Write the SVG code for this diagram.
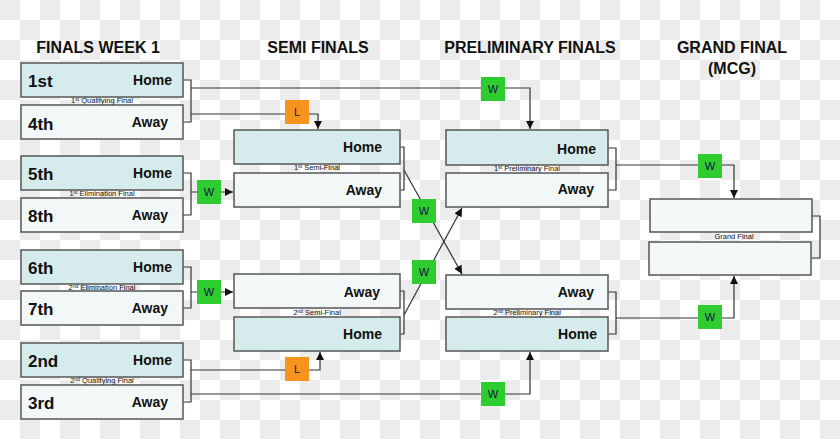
<svg xmlns="http://www.w3.org/2000/svg" width="840" height="439" viewBox="0 0 840 439">
<defs>
<pattern id="chk" width="40" height="40" patternUnits="userSpaceOnUse"><rect width="40" height="40" fill="#fff"/><rect width="20" height="20" fill="#ececec"/><rect x="20" y="20" width="20" height="20" fill="#ececec"/></pattern>
<marker id="ar" viewBox="0 0 10 10" refX="10" refY="5" markerWidth="7" markerHeight="7" orient="auto-start-reverse"><path d="M0,0L10,5L0,10z" fill="#111"/></marker>
<style>
.h{fill:#d6ecec;stroke:#555;stroke-width:1.5}
.a{fill:#f2f7f8;stroke:#555;stroke-width:1.5}
.t{font-family:"Liberation Sans",Arial,sans-serif;font-weight:bold;fill:#111}
.big{font-size:17px}
.mid{font-size:14px}
.sm{font-family:"Liberation Sans",Arial,sans-serif;font-size:7.5px;fill:#111;text-anchor:middle}
.sup{font-size:5px}
.hd{font-family:"Liberation Sans",Arial,sans-serif;font-weight:bold;font-size:16px;fill:#111;text-anchor:middle}
.c{fill:none;stroke:#333;stroke-width:1.2}
.w{fill:#2ecc2e}
.l{fill:#f7941d}
.bt{font-family:"Liberation Sans",Arial,sans-serif;font-size:11px;fill:#114;text-anchor:middle}
</style>
</defs>
<rect width="840" height="439" fill="url(#chk)"/>
<g id="headers">
<text class="hd" x="98" y="53">FINALS WEEK 1</text>
<text class="hd" x="318" y="53">SEMI FINALS</text>
<text class="hd" x="530" y="53">PRELIMINARY FINALS</text>
<text class="hd" x="732" y="53">GRAND FINAL</text>
<text class="hd" x="732" y="74">(MCG)</text>
</g>
<g id="connectors">
<path class="c" d="M183,80H191V122H183"/>
<path class="c" d="M183,173H191V215H183"/>
<path class="c" d="M183,267H191V308H183"/>
<path class="c" d="M183,360H191V402H183"/>
<path class="c" d="M400,147H404V190H400"/>
<path class="c" d="M400,291H404V334H400"/>
<path class="c" d="M608,148H616V190H608"/>
<path class="c" d="M608,292H616V334H608"/>
<path class="c" d="M812,216H820V258H812"/>
<path class="c" d="M191,88H530V129" marker-end="url(#ar)"/>
<path class="c" d="M191,114H318V129" marker-end="url(#ar)"/>
<path class="c" d="M191,192H233" marker-end="url(#ar)"/>
<path class="c" d="M191,292H233" marker-end="url(#ar)"/>
<path class="c" d="M191,370H320V352" marker-end="url(#ar)"/>
<path class="c" d="M191,394H530V352" marker-end="url(#ar)"/>
<path class="c" d="M404,170L462,274" marker-end="url(#ar)"/>
<path class="c" d="M404,315L462,208" marker-end="url(#ar)"/>
<path class="c" d="M616,165H734V198" marker-end="url(#ar)"/>
<path class="c" d="M616,318H734V276" marker-end="url(#ar)"/>
</g>
<g id="badges">
<rect class="w" x="481" y="77" width="24" height="24"/><text class="bt" x="493" y="93">W</text>
<rect class="l" x="285" y="100" width="24" height="24"/><text class="bt" x="297" y="116">L</text>
<rect class="w" x="197" y="180" width="24" height="24"/><text class="bt" x="209" y="196">W</text>
<rect class="w" x="197" y="280" width="24" height="24"/><text class="bt" x="209" y="296">W</text>
<rect class="l" x="285" y="357" width="24" height="24"/><text class="bt" x="297" y="373">L</text>
<rect class="w" x="481" y="382" width="24" height="24"/><text class="bt" x="493" y="398">W</text>
<rect class="w" x="412" y="199" width="24" height="24"/><text class="bt" x="424" y="215">W</text>
<rect class="w" x="412" y="260" width="24" height="24"/><text class="bt" x="424" y="276">W</text>
<rect class="w" x="698" y="154" width="24" height="24"/><text class="bt" x="710" y="170">W</text>
<rect class="w" x="698" y="305" width="24" height="24"/><text class="bt" x="710" y="321">W</text>
</g>
<g id="qf1">
<rect class="h" x="21" y="63" width="162" height="34"/><text class="t big" x="28" y="87">1st</text><text class="t mid" x="172" y="85" text-anchor="end">Home</text>
<text class="sm" x="102" y="103">1<tspan class="sup" dy="-2">st</tspan><tspan dy="2"> Qualifying Final</tspan></text>
<rect class="a" x="21" y="105" width="162" height="34"/><text class="t big" x="28" y="130">4th</text><text class="t mid" x="168" y="127" text-anchor="end">Away</text>
</g>
<g id="ef1">
<rect class="h" x="21" y="156" width="162" height="34"/><text class="t big" x="28" y="180">5th</text><text class="t mid" x="172" y="178" text-anchor="end">Home</text>
<text class="sm" x="102" y="196">1<tspan class="sup" dy="-2">st</tspan><tspan dy="2"> Elimination Final</tspan></text>
<rect class="a" x="21" y="198" width="162" height="34"/><text class="t big" x="28" y="222">8th</text><text class="t mid" x="168" y="220" text-anchor="end">Away</text>
</g>
<g id="ef2">
<rect class="h" x="21" y="250" width="162" height="34"/><text class="t big" x="28" y="274">6th</text><text class="t mid" x="172" y="272" text-anchor="end">Home</text>
<text class="sm" x="102" y="290">2<tspan class="sup" dy="-2">nd</tspan><tspan dy="2"> Elimination Final</tspan></text>
<rect class="a" x="21" y="291" width="162" height="34"/><text class="t big" x="28" y="315">7th</text><text class="t mid" x="168" y="313" text-anchor="end">Away</text>
</g>
<g id="qf2">
<rect class="h" x="21" y="343" width="162" height="34"/><text class="t big" x="28" y="367">2nd</text><text class="t mid" x="172" y="365" text-anchor="end">Home</text>
<text class="sm" x="102" y="383">2<tspan class="sup" dy="-2">nd</tspan><tspan dy="2"> Qualifying Final</tspan></text>
<rect class="a" x="21" y="385" width="162" height="34"/><text class="t big" x="28" y="409">3rd</text><text class="t mid" x="168" y="407" text-anchor="end">Away</text>
</g>
<g id="sf1">
<rect class="h" x="234" y="130" width="166" height="34"/><text class="t mid" x="382" y="152" text-anchor="end">Home</text>
<text class="sm" x="317" y="170">1<tspan class="sup" dy="-2">st</tspan><tspan dy="2"> Semi-Final</tspan></text>
<rect class="a" x="234" y="173" width="166" height="34"/><text class="t mid" x="382" y="195" text-anchor="end">Away</text>
</g>
<g id="sf2">
<rect class="a" x="234" y="274" width="166" height="34"/><text class="t mid" x="380" y="297" text-anchor="end">Away</text>
<text class="sm" x="317" y="315">2<tspan class="sup" dy="-2">nd</tspan><tspan dy="2"> Semi-Final</tspan></text>
<rect class="h" x="234" y="317" width="166" height="34"/><text class="t mid" x="382" y="339" text-anchor="end">Home</text>
</g>
<g id="pf1">
<rect class="h" x="446" y="130" width="162" height="35"/><text class="t mid" x="596" y="154" text-anchor="end">Home</text>
<text class="sm" x="527" y="171">1<tspan class="sup" dy="-2">st</tspan><tspan dy="2"> Preliminary Final</tspan></text>
<rect class="a" x="446" y="173" width="162" height="34"/><text class="t mid" x="594" y="194" text-anchor="end">Away</text>
</g>
<g id="pf2">
<rect class="a" x="446" y="275" width="162" height="34"/><text class="t mid" x="594" y="297" text-anchor="end">Away</text>
<text class="sm" x="527" y="315">2<tspan class="sup" dy="-2">nd</tspan><tspan dy="2"> Preliminary Final</tspan></text>
<rect class="h" x="446" y="317" width="162" height="34"/><text class="t mid" x="597" y="339" text-anchor="end">Home</text>
</g>
<g id="gf">
<rect class="a" x="650" y="199" width="162" height="33"/>
<text class="sm" x="734" y="239">Grand Final</text>
<rect class="a" x="649" y="242" width="162" height="33"/>
</g>
</svg>
